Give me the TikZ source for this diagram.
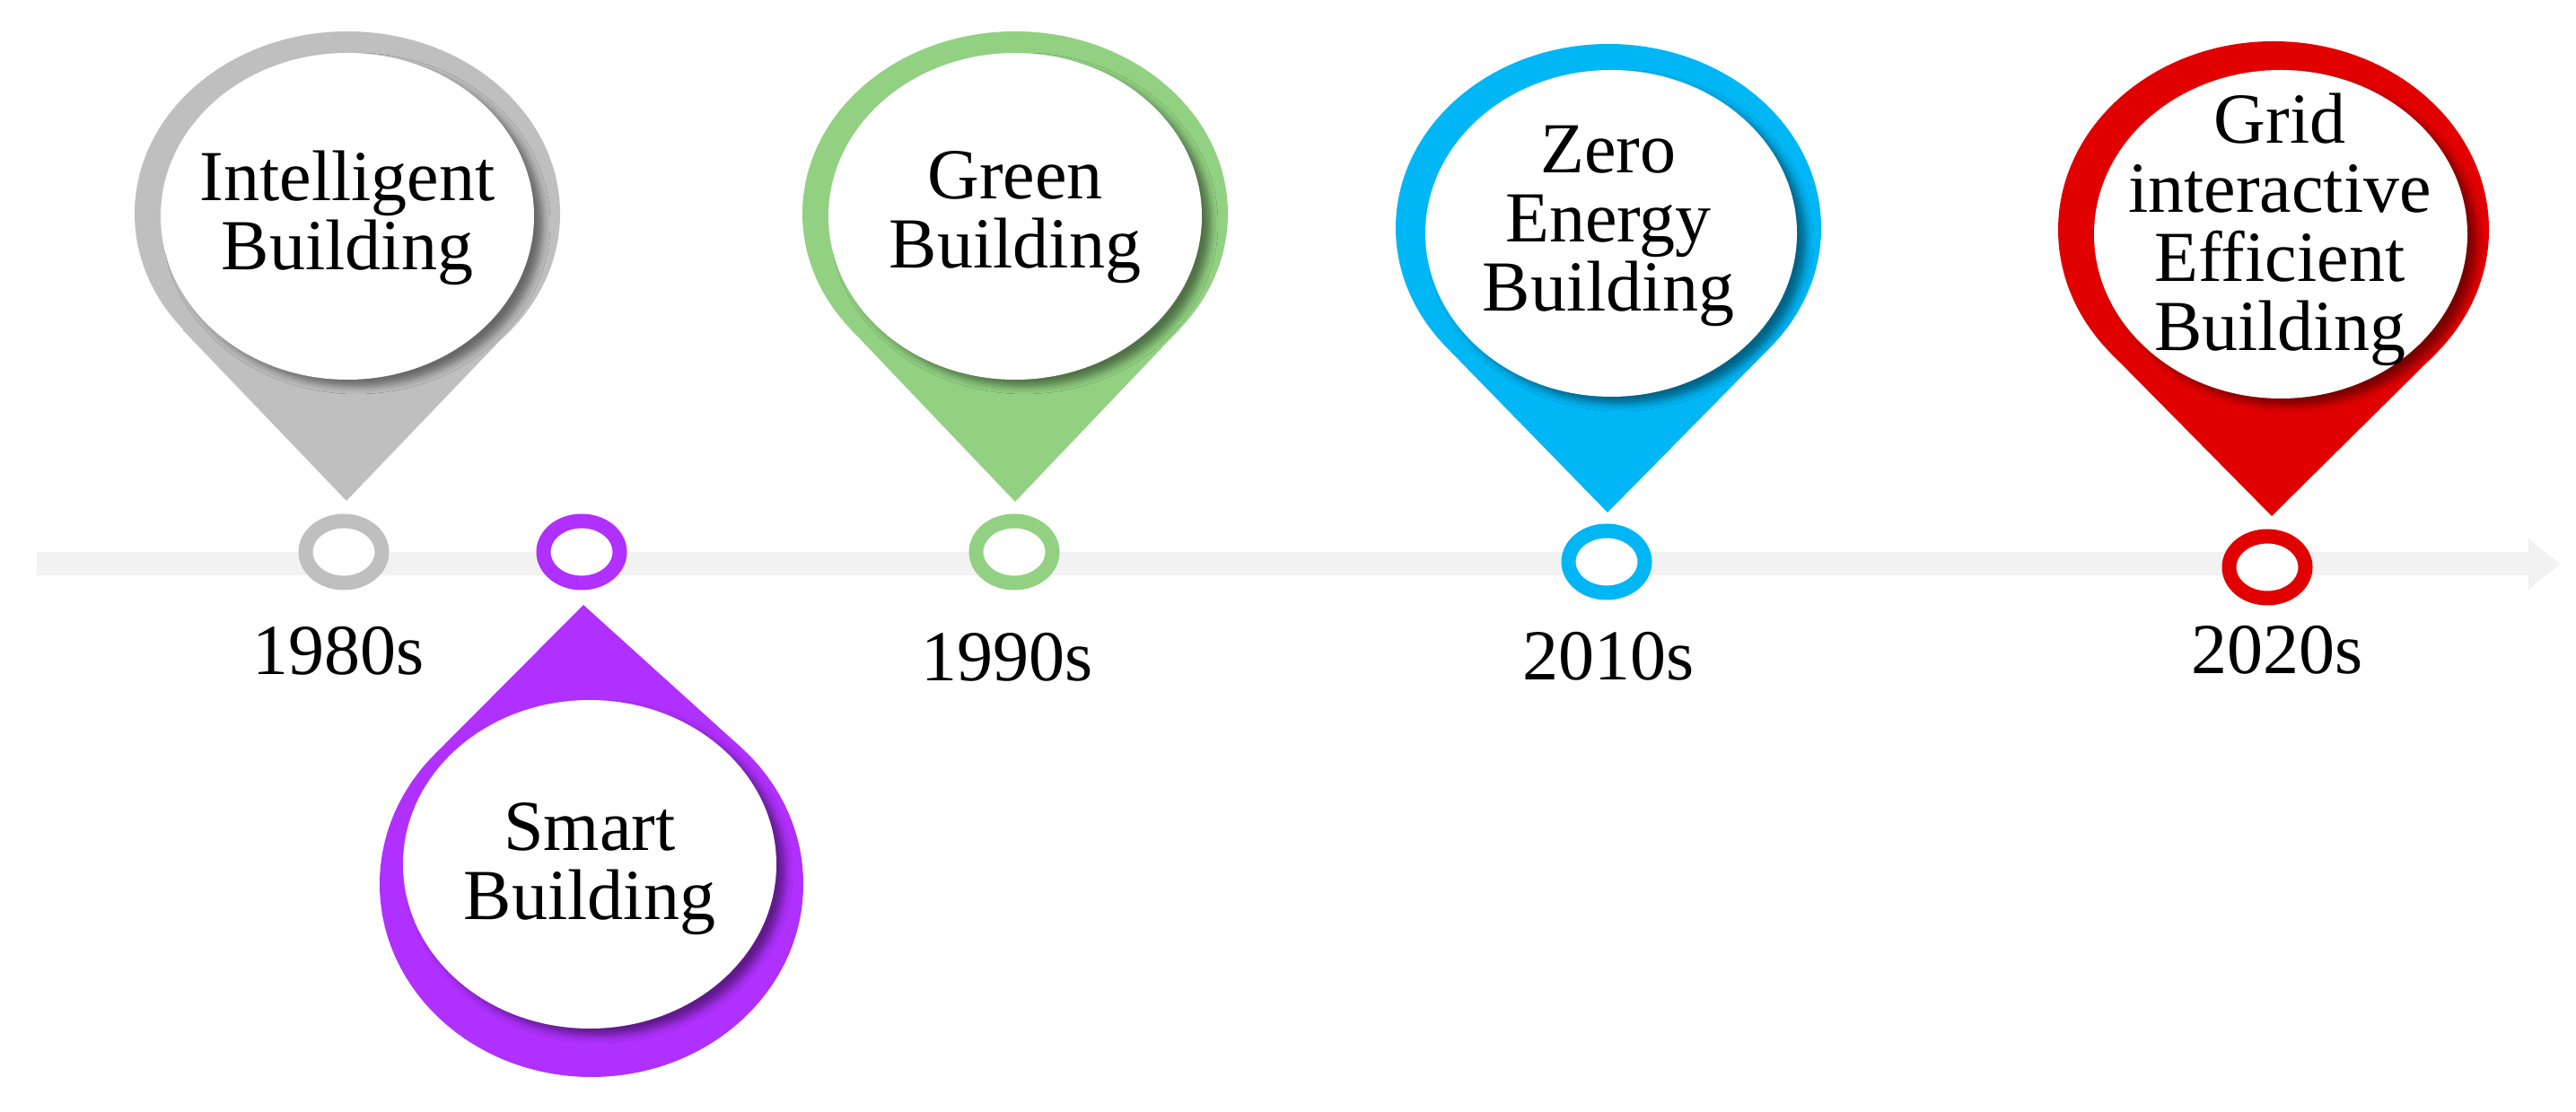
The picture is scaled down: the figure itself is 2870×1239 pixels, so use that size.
\documentclass[tikz,border=0pt]{standalone}
\usepackage{fontspec}
\setmainfont{Liberation Serif}
\usetikzlibrary{shadows.blur}

\definecolor{pinGray}{RGB}{191,191,191}
\definecolor{pinPurple}{RGB}{176,48,255}
\definecolor{pinGreen}{RGB}{146,209,130}
\definecolor{pinBlue}{RGB}{0,182,245}
\definecolor{pinRed}{RGB}{225,0,0}
\definecolor{barGray}{RGB}{242,242,242}

\begin{document}
\begin{tikzpicture}[x=0.25pt,y=0.25pt,yscale=-1,xscale=1,
    pinface/.style={fill=white, blur shadow={shadow xshift=2.5pt, shadow yshift=-2pt, shadow blur radius=2pt, shadow opacity=45}},
    pinring/.style={draw=#1, fill=white, line width=4pt},
    pintext/.style={align=center, inner sep=0pt, font=\fontsize{20}{19.25}\selectfont},
    yeartext/.style={anchor=base, inner sep=0pt, font=\fontsize{20}{19.25}\selectfont}]
    \useasboundingbox (0,0) rectangle (2870,1239);

    %Shape: Timeline arrow
    \fill [barGray] (41,615) -- (2817,615) -- (2817,600) -- (2852,628.5) -- (2817,657) -- (2817,641) -- (41,641) -- cycle ;

    %Shape: Rings on the timeline
    \draw [pinring=pinGray]   (383,615)  circle [x radius=42.5, y radius=34.5] ;
    \draw [pinring=pinPurple] (648,615)  circle [x radius=42.5, y radius=34.5] ;
    \draw [pinring=pinGreen]  (1130,615) circle [x radius=42.5, y radius=34.5] ;
    \draw [pinring=pinBlue]   (1790,626) circle [x radius=42.5, y radius=34.5] ;
    \draw [pinring=pinRed]    (2526,632) circle [x radius=42.5, y radius=34.5] ;

    %Shape: Gray pin
    \fill [pinGray] (387,238) circle [x radius=237, y radius=203] ;
    \fill [pinGray] (386,558) -- (202.8,366.8) -- (569.2,366.8) -- cycle ;
    \path [pinface] (387,241) circle [x radius=208, y radius=182] ;
    %Shape: Purple pin
    \fill [pinPurple] (659,985) circle [x radius=236, y radius=215] ;
    \fill [pinPurple] (650,674) -- (484.2,840.6) -- (825.2,832.4) -- cycle ;
    \path [pinface] (657,963) circle [x radius=208, y radius=183] ;
    %Shape: Green pin
    \fill [pinGreen] (1131,238) circle [x radius=237, y radius=203] ;
    \fill [pinGreen] (1131,559) -- (947.8,366.8) -- (1314.2,366.8) -- cycle ;
    \path [pinface] (1131,241) circle [x radius=208, y radius=182] ;
    %Shape: Blue pin
    \fill [pinBlue] (1792,254) circle [x radius=237, y radius=205] ;
    \fill [pinBlue] (1791,571) -- (1611.2,386.6) -- (1972.8,386.6) -- cycle ;
    \path [pinface] (1795,260) circle [x radius=207, y radius=182] ;
    %Shape: Red pin
    \fill [pinRed] (2533,256) circle [x radius=240, y radius=210] ;
    \fill [pinRed] (2531,575) -- (2352.4,394.2) -- (2713.6,394.2) -- cycle ;
    \path [pinface] (2541,261) circle [x radius=208, y radius=183] ;

    % Text Node
    \node [pintext] (intelligent) at (387,242.5) {Intelligent\\Building};
    % Text Node
    \node [pintext] (smart) at (657,968) {Smart\\Building};
    % Text Node
    \node [pintext] (green) at (1131,242.5) {Green\\Building};
    % Text Node
    \node [pintext] (zero) at (1792,251.5) {Zero\\Energy\\Building};
    % Text Node
    \node [pintext] (grid) at (2540,255.5) {Grid\\interactive\\Efficient\\Building};

    % Text Node
    \node [yeartext] (y1980) at (377,752) {1980s};
    % Text Node
    \node [yeartext] (y1990) at (1122,759) {1990s};
    % Text Node
    \node [yeartext] (y2010) at (1792,758) {2010s};
    % Text Node
    \node [yeartext] (y2020) at (2537,751) {2020s};
\end{tikzpicture}
\end{document}
